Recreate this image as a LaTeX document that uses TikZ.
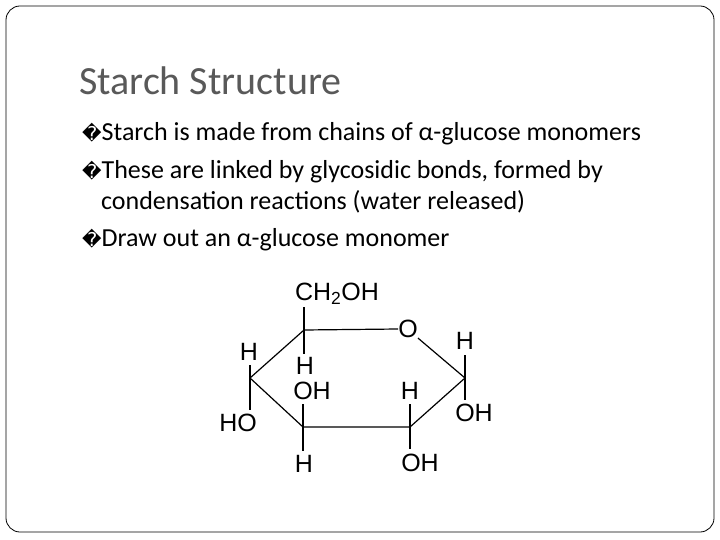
\documentclass[tikz,border=0pt]{standalone}
\usepackage{fontspec}
\setmainfont{Carlito}
\newfontfamily\arial{Liberation Sans}
\newfontfamily\dej{DejaVu Sans}
\begin{document}
\begin{tikzpicture}[x=1pt,y=-1pt,
  bul/.style={anchor=west,font=\fontsize{26}{31}\selectfont,inner sep=0pt},
  atm/.style={font=\arial\fontsize{25}{30}\selectfont,inner sep=1pt},
  bond/.style={line width=1.2pt}]
\useasboundingbox (0,0) rectangle (720,540);
\draw[line width=0.8pt,rounded corners=14pt] (6,6) rectangle (714,532);
\node[anchor=west,inner sep=0pt,text=black!65,font=\fontsize{40}{48}\selectfont] (title) at (79,81) {Starch Structure};
\node[bul] (b1) at (82,134) {{\dej\fontsize{19}{22}\selectfont �}Starch is made from chains of α-glucose monomers};
\node[bul] (b2) at (82,172) {{\dej\fontsize{19}{22}\selectfont �}These are linked by glycosidic bonds, formed by};
\node[bul] (b2b) at (101,202) {condensation reactions (water released)};
\node[bul] (b3) at (82,240) {{\dej\fontsize{19}{22}\selectfont �}Draw out an α-glucose monomer};
% ring
\coordinate (C5) at (304,330);
\coordinate (C1) at (465,378);
\coordinate (C2) at (410,427);
\coordinate (C3) at (303,427);
\coordinate (C4) at (250,378);
\node[atm,inner sep=0pt] (O) at (408,329) {O};
\draw[bond] (C5) -- (O.west) (O.south east) -- (C1) -- (C2) -- (C3) -- (C4) -- (C5);
\node[atm] (ch) at (337,294) {CH\textsubscript{2}OH};
\node[atm] (h5) at (305,366) {H};
\node[atm] (h4) at (249,352) {H};
\node[atm] (ho4) at (238,423) {HO};
\node[atm] (oh3) at (312,391) {OH};
\node[atm] (h3) at (304,464) {H};
\node[atm] (h2) at (410,391) {H};
\node[atm] (oh2) at (420,463) {OH};
\node[atm] (h1) at (465,341) {H};
\node[atm] (oh1) at (474,413) {OH};
\draw[bond] (C5) -- (304,307) (C5) -- (304,354);
\draw[bond] (C4) -- (250,365) (C4) -- (250,410);
\draw[bond] (C3) -- (303,404) (C3) -- (303,451);
\draw[bond] (C2) -- (410,404) (C2) -- (410,449);
\draw[bond] (C1) -- (465,355) (C1) -- (465,400);
\end{tikzpicture}
\end{document}
